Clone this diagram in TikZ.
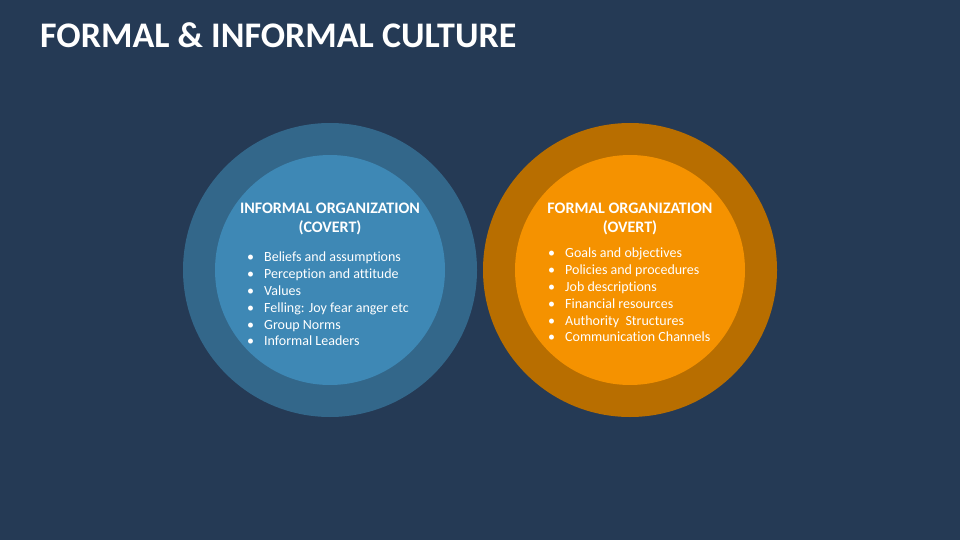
\documentclass[tikz,border=0pt]{standalone}
\usepackage{fontspec}
\setmainfont[Ligatures=NoCommon]{Carlito}
\definecolor{bg}{HTML}{253A55}
\definecolor{bout}{HTML}{33678A}
\definecolor{bin}{HTML}{3E88B5}
\definecolor{oout}{HTML}{B86E00}
\definecolor{oin}{HTML}{F59200}
\tikzset{hdr/.style={text=white,font=\bfseries\fontsize{16}{19}\selectfont,align=center},
lst/.style={text=white,font=\fontsize{14}{16.8}\selectfont,align=left,anchor=north west}}
\begin{document}
\begin{tikzpicture}[x=1pt,y=-1pt]
\fill[bg] (0,0) rectangle (960,540);
\useasboundingbox (0,0) rectangle (960,540);
\node[anchor=west,text=white,font=\bfseries\fontsize{36}{40}\selectfont,inner sep=0] (title) at (40,35) {FORMAL \& INFORMAL CULTURE};
\fill[bout] (330,270) circle (147);
\fill[bin] (330,270) circle (115);
\fill[oout] (630,270) circle (147);
\fill[oin] (630,270) circle (115);
\node[hdr] (lh) at (330,219) {INFORMAL ORGANIZATION\\(COVERT)};
\node[hdr] (rh) at (630,219) {FORMAL ORGANIZATION\\(OVERT)};
\node[lst,inner sep=0] (ll) at (247,252) {%
\textbullet\hspace{10pt}Beliefs and assumptions\\
\textbullet\hspace{10pt}Perception and attitude\\
\textbullet\hspace{10pt}Values\\
\textbullet\hspace{10pt}Felling: Joy fear anger etc\\
\textbullet\hspace{10pt}Group Norms\\
\textbullet\hspace{10pt}Informal Leaders};
\node[lst,inner sep=0] (rl) at (548,248) {%
\textbullet\hspace{10pt}Goals and objectives\\
\textbullet\hspace{10pt}Policies and procedures\\
\textbullet\hspace{10pt}Job descriptions\\
\textbullet\hspace{10pt}Financial resources\\
\textbullet\hspace{10pt}Authority\ \ Structures\\
\textbullet\hspace{10pt}Communication Channels};
\end{tikzpicture}
\end{document}
